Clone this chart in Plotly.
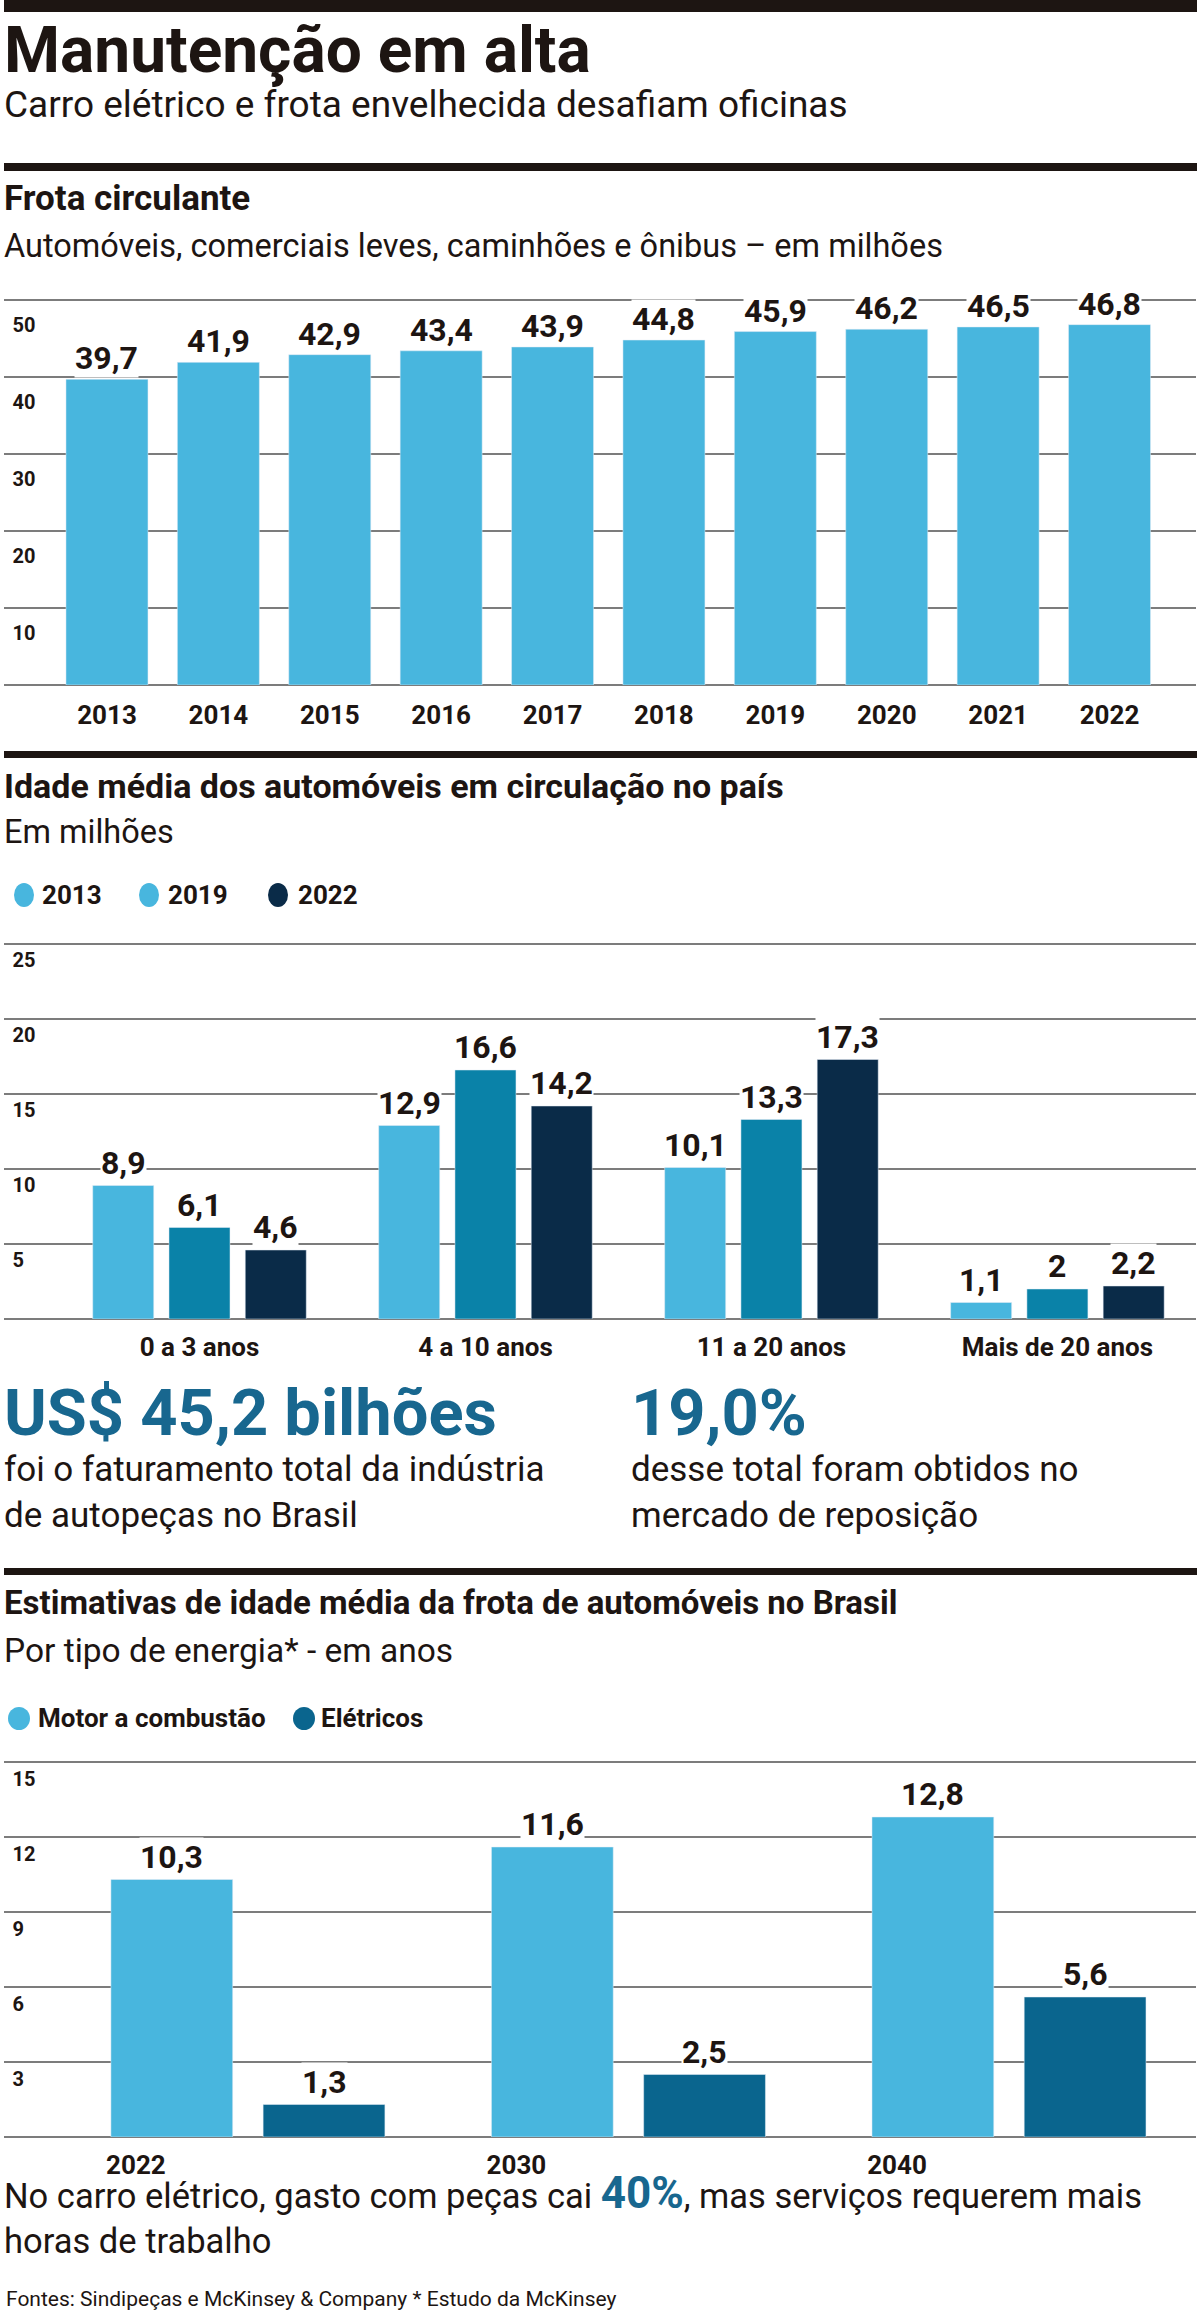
import plotly.graph_objects as go

# ---------------- data ----------------
frota_years = ["2013", "2014", "2015", "2016", "2017", "2018", "2019", "2020", "2021", "2022"]
frota_values = [39.7, 41.9, 42.9, 43.4, 43.9, 44.8, 45.9, 46.2, 46.5, 46.8]
frota_ticks = [10, 20, 30, 40, 50]

idade_groups = ["0 a 3 anos", "4 a 10 anos", "11 a 20 anos", "Mais de 20 anos"]
idade_2013 = [8.9, 12.9, 10.1, 1.1]
idade_2019 = [6.1, 16.6, 13.3, 2]
idade_2022 = [4.6, 14.2, 17.3, 2.2]
idade_series = ["2013", "2019", "2022"]
idade_ticks = [5, 10, 15, 20, 25]

estim_years = ["2022", "2030", "2040"]
estim_combustao = [10.3, 11.6, 12.8]
estim_eletricos = [1.3, 2.5, 5.6]
estim_series = ["Motor a combustão", "Elétricos"]
estim_ticks = [3, 6, 9, 12, 15]

# ---------------- style ----------------
W, H = 1200, 2313
FONT = "Roboto, 'Liberation Sans', sans-serif"
INK = "#1d1512"
LIGHT = "#48b6de"
TEAL = "#0a82a8"
NAVY = "#0a2b48"
ELET = "#0a658e"
HIGHL = "#18678f"
GRID = "#7c7c7c"


def yp(px):
    return 1 - px / H


def xp(px):
    return px / W


def fmt(v):
    return f"{v:g}".replace(".", ",")


fig = go.Figure()

# chart 1
fig.add_trace(go.Bar(x=frota_years, y=frota_values, marker_color=LIGHT, width=0.736,
                     xaxis="x", yaxis="y", showlegend=False, cliponaxis=False))
# chart 2
for name, vals, col in zip(idade_series, [idade_2013, idade_2019, idade_2022], [LIGHT, TEAL, NAVY]):
    fig.add_trace(go.Bar(x=idade_groups, y=vals, name=name, marker_color=col,
                         xaxis="x2", yaxis="y2", showlegend=False, cliponaxis=False))
# chart 3
for name, vals, col in zip(estim_series, [estim_combustao, estim_eletricos], [LIGHT, ELET]):
    fig.add_trace(go.Bar(x=estim_years, y=vals, name=name, marker_color=col,
                         xaxis="x3", yaxis="y3", showlegend=False, cliponaxis=False))

XDOM = [0.003, 0.997]
PLOT_W = (XDOM[1] - XDOM[0]) * W
R1 = [-0.928, 9.78]
R2 = [-0.685, 3.486]
R3 = [-0.642, 2.4925]

ann = []


def val_labels(cats, series, xref, yref, rng, size, yshift):
    n = len(series)
    px_per_cat = PLOT_W / (rng[1] - rng[0])
    slot = 0.8 * px_per_cat / n if n > 1 else 0
    for k, vals in enumerate(series):
        off = (k - (n - 1) / 2) * slot
        for i, (c, v) in enumerate(zip(cats, vals)):
            ann.append(dict(x=i, y=v, xref=xref, yref=yref, text=fmt(v), showarrow=False,
                            yanchor="bottom", xanchor="center", xshift=off, yshift=yshift,
                            bgcolor="white", borderpad=0,
                            font=dict(family=FONT, size=size, color=INK, weight=700)))


val_labels(frota_years, [frota_values], "x", "y", R1, 32, 1)
val_labels(idade_groups, [idade_2013, idade_2019, idade_2022], "x2", "y2", R2, 32, 3)
val_labels(estim_years, [estim_combustao, estim_eletricos], "x3", "y3", R3, 32, 3)


def text(x, y, s, size, bold=False, color=INK, anchor="left"):
    ann.append(dict(x=xp(x), y=yp(y), xref="paper", yref="paper", text=s, showarrow=False,
                    xanchor=anchor, yanchor="middle", align="left",
                    font=dict(family=FONT, size=size, color=color, weight=700 if bold else 400)))


text(2, 50, "Manutenção em alta", 64, bold=True)
text(2, 105, "Carro elétrico e frota envelhecida desafiam oficinas", 37)
text(2, 198, "Frota circulante", 35, bold=True)
text(2, 246, "Automóveis, comerciais leves, caminhões e ônibus – em milhões", 32.5)
text(2, 786, "Idade média dos automóveis em circulação no país", 34, bold=True)
text(2, 832, "Em milhões", 32.5)
text(40, 895, "2013", 26, bold=True)
text(166, 895, "2019", 26, bold=True)
text(296, 895, "2022", 26, bold=True)
text(2, 1413, "US$ 45,2 bilhões", 65, bold=True, color=HIGHL)
text(629, 1413, "19,0%", 65, bold=True, color=HIGHL)
text(2, 1492, "foi o faturamento total da indústria<br>de autopeças no Brasil", 35)
text(629, 1492, "desse total foram obtidos no<br>mercado de reposição", 35)
text(2, 1602, "Estimativas de idade média da frota de automóveis no Brasil", 33, bold=True)
text(2, 1650, "Por tipo de energia* - em anos", 33.5)
text(36, 1718, "Motor a combustão", 26, bold=True)
text(319, 1718, "Elétricos", 26, bold=True)
text(2, 2214, "No carro elétrico, gasto com peças cai "
     f"<span style='color:{HIGHL};font-weight:bold;font-size:44px'>40%</span>"
     ", mas serviços requerem mais<br>horas de trabalho", 34.5)
text(4, 2299, "Fontes: Sindipeças e McKinsey &amp; Company * Estudo da McKinsey", 21)

shapes = []
for y0, y1 in [(0, 12), (163, 171), (751, 758), (1568, 1575)]:
    shapes.append(dict(type="rect", xref="paper", yref="paper", x0=xp(4), x1=xp(1197),
                       y0=yp(y1), y1=yp(y0), fillcolor=INK, line_width=0, layer="above"))


def dot(x0, x1, y0, y1, col):
    shapes.append(dict(type="circle", xref="paper", yref="paper", x0=xp(x0), x1=xp(x1),
                       y0=yp(y1), y1=yp(y0), fillcolor=col, line_width=0))


# legend dots (the reference shows the 2019 dot in light blue)
dot(14, 34, 883, 907, LIGHT)
dot(139, 159, 883, 907, LIGHT)
dot(268, 288, 883, 907, NAVY)
dot(8, 30, 1707, 1730, LIGHT)
dot(293, 315, 1707, 1730, ELET)


def yaxis(domain_px, base_px, scale, ticks, shift):
    top_px, bot_px = domain_px
    return dict(domain=[yp(bot_px), yp(top_px)], range=[0, (base_px - top_px) / scale],
                tickvals=ticks, ticktext=[str(t) for t in ticks], showgrid=True,
                gridcolor=GRID, gridwidth=2, zeroline=True, zerolinecolor=GRID,
                zerolinewidth=2, ticks="", ticklabelposition="inside", ticklabelshift=shift,
                ticklabelstandoff=6, fixedrange=True,
                tickfont=dict(family=FONT, size=20, color=INK, weight=700))


def xaxis(anchor, rng, standoff, shift=0):
    return dict(type="category", domain=XDOM, anchor=anchor, range=rng, showgrid=False,
                ticks="", ticklabelstandoff=standoff, ticklabelshift=shift, fixedrange=True,
                tickfont=dict(family=FONT, size=26, color=INK, weight=700))


fig.update_layout(
    width=W, height=H, margin=dict(l=0, r=0, t=0, b=0),
    paper_bgcolor="white", plot_bgcolor="white",
    barmode="group", bargap=0.2, bargroupgap=0.2,
    xaxis=xaxis("y", R1, 12),
    yaxis=yaxis((280, 685), 685, 7.7, frota_ticks, 25),
    xaxis2=xaxis("y2", R2, 10),
    yaxis2=yaxis((930, 1319), 1319, 15, idade_ticks, 16),
    xaxis3=xaxis("y3", R3, 10, -112),
    yaxis3=yaxis((1750, 2137), 2137, 25, estim_ticks, 17),
    annotations=ann, shapes=shapes,
    showlegend=False,
)

fig.write_html("out.html")
